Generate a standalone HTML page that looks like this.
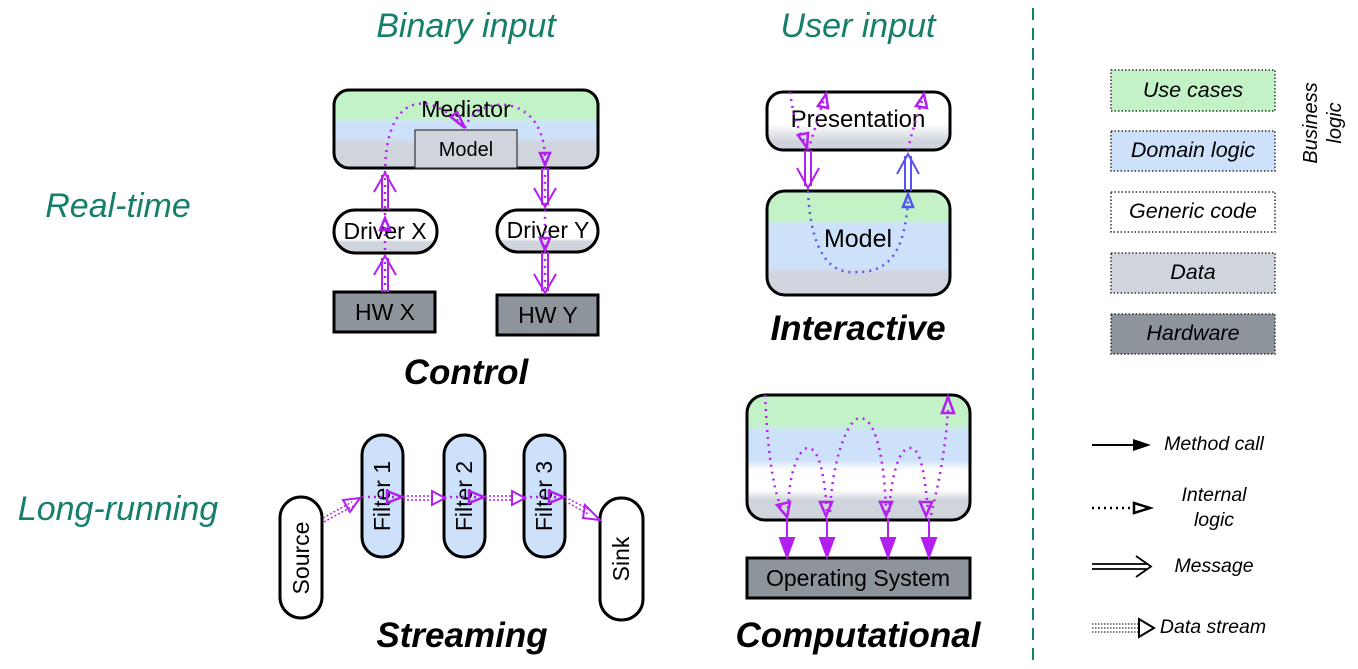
<!DOCTYPE html>
<html><head><meta charset="utf-8"><style>
html,body{margin:0;padding:0;background:#fff;}
svg{display:block;font-family:"Liberation Sans",sans-serif;}
</style></head><body>
<svg width="1358" height="669" viewBox="0 0 1358 669" xmlns="http://www.w3.org/2000/svg">
<defs>
<linearGradient id="gMed" x1="0" y1="0" x2="0" y2="1">
<stop offset="0" stop-color="#c3f2c6"/><stop offset="0.35" stop-color="#c3f2c6"/>
<stop offset="0.42" stop-color="#cde2fa"/><stop offset="0.6" stop-color="#cde2fa"/>
<stop offset="0.7" stop-color="#d0d5dd"/><stop offset="1" stop-color="#d0d5dd"/></linearGradient>
<linearGradient id="gDrv" x1="0" y1="0" x2="0" y2="1">
<stop offset="0" stop-color="#fff"/><stop offset="0.68" stop-color="#fff"/>
<stop offset="0.75" stop-color="#d0d5dd"/><stop offset="1" stop-color="#d0d5dd"/></linearGradient>
<linearGradient id="gPres" x1="0" y1="0" x2="0" y2="1">
<stop offset="0" stop-color="#fff"/><stop offset="0.55" stop-color="#fff"/>
<stop offset="0.85" stop-color="#d0d5dd"/><stop offset="1" stop-color="#d0d5dd"/></linearGradient>
<linearGradient id="gModel" x1="0" y1="0" x2="0" y2="1">
<stop offset="0" stop-color="#c3f2c6"/><stop offset="0.27" stop-color="#c3f2c6"/>
<stop offset="0.33" stop-color="#cde2fa"/><stop offset="0.72" stop-color="#cde2fa"/>
<stop offset="0.8" stop-color="#d0d5dd"/><stop offset="1" stop-color="#d0d5dd"/></linearGradient>
<linearGradient id="gComp" x1="0" y1="0" x2="0" y2="1">
<stop offset="0" stop-color="#c3f2c6"/><stop offset="0.22" stop-color="#c3f2c6"/>
<stop offset="0.3" stop-color="#cde2fa"/><stop offset="0.52" stop-color="#cde2fa"/>
<stop offset="0.6" stop-color="#fff"/><stop offset="0.76" stop-color="#fff"/>
<stop offset="0.84" stop-color="#d0d5dd"/><stop offset="1" stop-color="#d0d5dd"/></linearGradient>
</defs>

<!-- headings -->
<g fill="#157f6b" font-style="italic" font-size="34" text-anchor="middle">
<text x="466" y="37">Binary input</text>
<text x="858" y="37">User input</text>
<text x="118" y="217">Real-time</text>
<text x="118" y="520">Long-running</text>
</g>
<line x1="1033" y1="8" x2="1033" y2="662" stroke="#157f6b" stroke-width="2" stroke-dasharray="12,8"/>

<!-- Control -->
<rect x="334" y="90" width="264" height="78" rx="15" fill="url(#gMed)" stroke="#000" stroke-width="3"/>
<rect x="415" y="130" width="102" height="38" fill="#d0d5dd" stroke="#333" stroke-width="1.2"/>
<text x="466" y="117" font-size="23" text-anchor="middle">Mediator</text>
<text x="466" y="156" font-size="20" text-anchor="middle">Model</text>
<rect x="334" y="210" width="103" height="43" rx="21" fill="url(#gDrv)" stroke="#000" stroke-width="3"/>
<rect x="497" y="210" width="101" height="42" rx="21" fill="url(#gDrv)" stroke="#000" stroke-width="3"/>
<text x="385" y="239" font-size="23" text-anchor="middle">Driver X</text>
<text x="548" y="238" font-size="23" text-anchor="middle">Driver Y</text>
<rect x="334" y="292" width="101" height="40" fill="#8e949c" stroke="#000" stroke-width="3"/>
<rect x="497" y="295" width="101" height="40" fill="#8e949c" stroke="#000" stroke-width="3"/>
<text x="385" y="320" font-size="23" text-anchor="middle">HW X</text>
<text x="548" y="323" font-size="23" text-anchor="middle">HW Y</text>
<text x="466" y="384" font-size="35" font-weight="bold" font-style="italic" text-anchor="middle">Control</text>
<g stroke="#b31ff0" fill="none" stroke-width="2">
<path d="M382,292 V258 M388,292 V258 M374,275 L385,256 L396,275"/>
<path d="M382,210 V175 M388,210 V175 M374,192 L385,173 L396,192"/>
<path d="M542,168 V205 M548,168 V205 M534,188 L545,207 L556,188"/>
<path d="M542,252 V291 M548,252 V291 M534,274 L545,293 L556,274"/>
<path d="M385,292 V175 C385,90 430,90 465,128" stroke-dasharray="2,5" stroke-width="2.5"/>
<path d="M465,128 C475,95 545,90 545,160 V292" stroke-dasharray="2,5" stroke-width="2.5"/>
<path d="M451,117 L465,128 L457,112 Z" stroke-width="2.5"/>
<path d="M540,153 L545,165 L550,153 Z" stroke-width="2.5"/>
<path d="M540,238 L545,250 L550,238 Z" stroke-width="2.5"/>
<path d="M380,230 L385,218 L390,230 Z" stroke-width="2.5"/>
</g>

<!-- Interactive -->
<rect x="767" y="92" width="183" height="58" rx="16" fill="url(#gPres)" stroke="#000" stroke-width="3"/>
<rect x="767" y="191" width="183" height="104" rx="18" fill="url(#gModel)" stroke="#000" stroke-width="3"/>
<text x="858" y="127" font-size="24" text-anchor="middle">Presentation</text>
<text x="858" y="247" font-size="25" text-anchor="middle">Model</text>
<text x="858" y="340" font-size="35" font-weight="bold" font-style="italic" text-anchor="middle">Interactive</text>
<g fill="none" stroke-width="2">
<path d="M790,92 C795,130 805,140 808,150" stroke="#b31ff0" stroke-dasharray="2,5" stroke-width="2.5"/>
<path d="M808,150 C815,130 820,110 826,94" stroke="#b31ff0" stroke-dasharray="2,5" stroke-width="2.5"/>
<path d="M908,150 C912,130 918,115 924,94" stroke="#b31ff0" stroke-dasharray="2,5" stroke-width="2.5"/>
<path d="M818,106 L826,94 L828,108 Z" stroke="#b31ff0" stroke-width="2.5"/>
<path d="M916,106 L924,94 L927,108 Z" stroke="#b31ff0" stroke-width="2.5"/>
<path d="M798,135 L807,148 L808,133 Z" stroke="#b31ff0" stroke-width="2.5"/>
<path d="M805,150 V186 M811,150 V186 M797,168 L808,188 L819,168" stroke="#b31ff0"/>
<path d="M905,191 V156 M911,191 V156 M897,174 L908,154 L919,174" stroke="#5555ee"/>
<path d="M808,191 C812,280 850,272 858,272 C890,272 905,250 908,200" stroke="#5555ee" stroke-dasharray="2,5" stroke-width="2.5"/>
<path d="M903,207 L908,194 L913,207 Z" stroke="#5555ee" stroke-width="2.5"/>
</g>

<!-- Computational -->
<rect x="747" y="395" width="223" height="125" rx="18" fill="url(#gComp)" stroke="#000" stroke-width="3"/>
<rect x="747" y="558" width="223" height="40" fill="#8e949c" stroke="#000" stroke-width="3"/>
<text x="858" y="586" font-size="23" text-anchor="middle">Operating System</text>
<text x="858" y="647" font-size="35" font-weight="bold" font-style="italic" text-anchor="middle">Computational</text>
<g stroke="#b31ff0" fill="none" stroke-width="2.5">
<path d="M765,395 C768,460 775,500 785,515" stroke-dasharray="2,5"/>
<path d="M788,515 C788,470 800,448 808,448 C820,448 825,480 827,512" stroke-dasharray="2,5"/>
<path d="M830,512 C832,460 848,418 860,418 C878,418 885,470 886,512" stroke-dasharray="2,5"/>
<path d="M889,512 C892,470 900,448 910,448 C922,448 925,480 928,510" stroke-dasharray="2,5"/>
<path d="M931,515 C942,470 946,440 948,410" stroke-dasharray="2,5"/>
<g stroke-width="2.5">
<path d="M777,505 L787,517 L790,502 Z"/><path d="M820,502 L826,516 L832,502 Z"/>
<path d="M880,502 L886,516 L892,502 Z"/><path d="M920,502 L926,516 L932,502 Z"/>
<path d="M942,413 L948,397 L954,413 Z"/>
</g>
</g>
<g stroke="#b31ff0" fill="#b31ff0" stroke-width="2">
<path d="M787,518 V545"/><path d="M780,538 L787,557 L794,538 Z"/>
<path d="M827,518 V545"/><path d="M820,538 L827,557 L834,538 Z"/>
<path d="M888,518 V545"/><path d="M881,538 L888,557 L895,538 Z"/>
<path d="M929,518 V545"/><path d="M922,538 L929,557 L936,538 Z"/>
</g>

<!-- Streaming -->
<g stroke="#000" stroke-width="3">
<rect x="280" y="497" width="42" height="121" rx="21" fill="#fff"/>
<rect x="362" y="435" width="41" height="122" rx="20" fill="#cde2fa"/>
<rect x="444" y="435" width="41" height="122" rx="20" fill="#cde2fa"/>
<rect x="524" y="435" width="41" height="122" rx="20" fill="#cde2fa"/>
<rect x="600" y="498" width="43" height="122" rx="21" fill="#fff"/>
</g>
<g font-size="23" text-anchor="middle">
<text transform="translate(309,558) rotate(-90)">Source</text>
<text transform="translate(390,496) rotate(-90)">Filter 1</text>
<text transform="translate(472,496) rotate(-90)">Filter 2</text>
<text transform="translate(552,496) rotate(-90)">Filter 3</text>
<text transform="translate(629,559) rotate(-90)">Sink</text>
</g>
<text x="462" y="647" font-size="35" font-weight="bold" font-style="italic" text-anchor="middle">Streaming</text>
<g stroke="#b31ff0" fill="none" stroke-width="1.5">
<path d="M323,518 L352,502 M324,522 L353,506" stroke-dasharray="2,2"/>
<path d="M343,500 L360,498 L350,512 Z" stroke-width="2"/>
<path d="M403,496 H432 M403,500 H432" stroke-dasharray="2,2"/>
<path d="M432,491 L445,498 L432,505 Z" stroke-width="2"/>
<path d="M485,496 H512 M485,500 H512" stroke-dasharray="2,2"/>
<path d="M512,491 L525,498 L512,505 Z" stroke-width="2"/>
<path d="M565,497 L590,510 M565,501 L588,514" stroke-dasharray="2,2"/>
<path d="M585,505 L600,520 L583,518 Z" stroke-width="2"/>
<path d="M362,497 H402" stroke-dasharray="2,4" stroke-width="2.5"/>
<path d="M444,497 H485" stroke-dasharray="2,4" stroke-width="2.5"/>
<path d="M524,497 H565" stroke-dasharray="2,4" stroke-width="2.5"/>
<path d="M387,491 L402,497 L387,503 Z" stroke-width="2.5"/>
<path d="M469,491 L484,497 L469,503 Z" stroke-width="2.5"/>
<path d="M549,491 L564,497 L549,503 Z" stroke-width="2.5"/>
</g>

<!-- Legend -->
<g stroke="#333" stroke-width="1.5" stroke-dasharray="1.5,2">
<rect x="1111" y="70" width="164" height="41" fill="#c3f2c6"/>
<rect x="1111" y="131" width="164" height="40" fill="#cde2fa"/>
<rect x="1111" y="192" width="164" height="40" fill="#fff"/>
<rect x="1111" y="253" width="164" height="40" fill="#d0d5dd"/>
<rect x="1111" y="314" width="164" height="40" fill="#8e949c"/>
</g>
<g font-size="21.5" font-style="italic" text-anchor="middle">
<text x="1193" y="97">Use cases</text>
<text x="1193" y="157">Domain logic</text>
<text x="1193" y="218">Generic code</text>
<text x="1193" y="279">Data</text>
<text x="1193" y="340">Hardware</text>
<text transform="translate(1317,123) rotate(-90)" font-size="20">Business</text>
<text transform="translate(1341,123) rotate(-90)" font-size="20">logic</text>
</g>
<g font-size="19.5" font-style="italic" text-anchor="middle">
<text x="1214" y="450">Method call</text>
<text x="1214" y="501">Internal</text>
<text x="1214" y="526">logic</text>
<text x="1214" y="572">Message</text>
<text x="1213" y="633">Data stream</text>
</g>
<path d="M1092,445 H1135" stroke="#000" stroke-width="2"/>
<path d="M1133,439 L1151,445 L1133,451 Z" fill="#000"/>
<path d="M1092,508 H1133" stroke="#000" stroke-width="2.5" stroke-dasharray="2,4"/>
<path d="M1134,503 L1150,508 L1134,513 Z" fill="none" stroke="#000" stroke-width="2.5"/>
<path d="M1092,564 H1148 M1092,569 H1148 M1136,556 L1151,566.5 L1136,577" fill="none" stroke="#000" stroke-width="1.8"/>
<path d="M1092,624 H1138 M1092,628 H1138 M1092,632 H1138" stroke="#000" stroke-width="1" stroke-dasharray="1.5,1.5"/>
<path d="M1139,619 L1154,628 L1139,637 Z" fill="none" stroke="#000" stroke-width="2"/>
</svg>
</body></html>
